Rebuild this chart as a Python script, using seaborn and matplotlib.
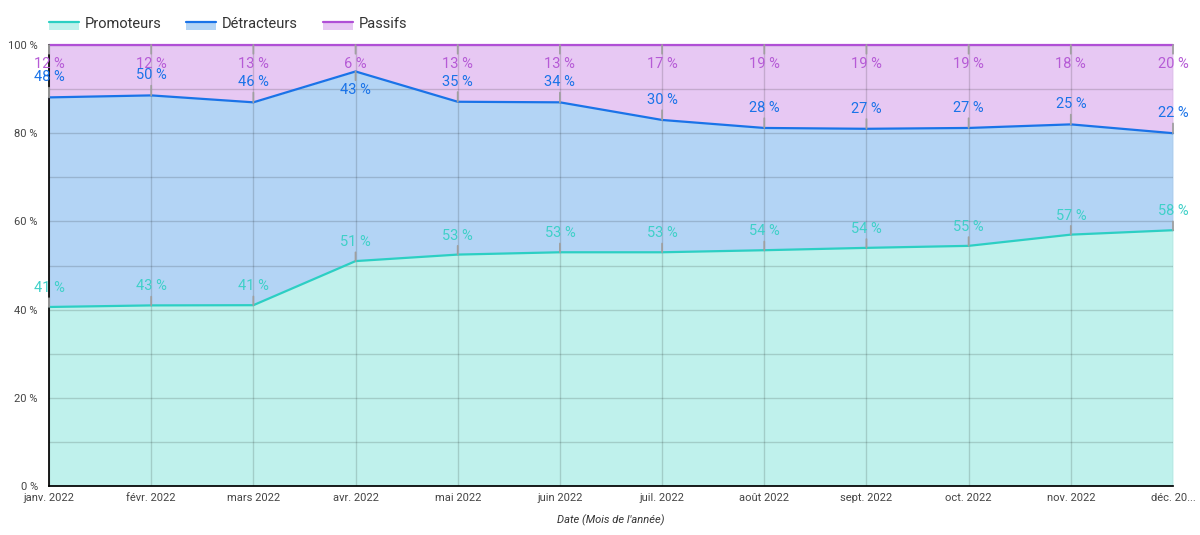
import numpy as np
import pandas as pd
import seaborn as sns
import matplotlib.pyplot as plt
from matplotlib.patches import Patch, Rectangle
from matplotlib.lines import Line2D
from matplotlib.legend_handler import HandlerBase

months = ['janv. 2022', 'févr. 2022', 'mars 2022', 'avr. 2022', 'mai 2022', 'juin 2022',
          'juil. 2022', 'août 2022', 'sept. 2022', 'oct. 2022', 'nov. 2022', 'déc. 20...']
promoteurs = [41, 43, 41, 51, 53, 53, 53, 54, 54, 55, 57, 58]
detracteurs = [48, 50, 46, 43, 35, 34, 30, 28, 27, 27, 25, 22]
passifs = [12, 12, 13, 6, 13, 13, 17, 19, 19, 19, 18, 20]

df = pd.DataFrame({'Promoteurs': promoteurs, 'Détracteurs': detracteurs, 'Passifs': passifs})
df['x'] = np.arange(len(months))
total = df[['Promoteurs', 'Détracteurs', 'Passifs']].sum(axis=1)
df['low'] = df['Promoteurs'] / total * 100
df['mid'] = (df['Promoteurs'] + df['Détracteurs']) / total * 100
df['top'] = 100.0

line_c = {'Promoteurs': '#2ccfc3', 'Détracteurs': '#1a73e8', 'Passifs': '#b04fd6'}
fill_c = {'Promoteurs': '#bff1ec', 'Détracteurs': '#b3d4f5', 'Passifs': '#e7c8f3'}
text_c = {'Promoteurs': '#3fd0c8', 'Détracteurs': '#1a73e8', 'Passifs': '#b65bd6'}

sns.set_theme(style='white')
plt.rcParams['font.family'] = ['Roboto', 'DejaVu Sans']

fig = plt.figure(figsize=(12, 5.35), dpi=100)
ax = fig.add_axes([49 / 1200, 1 - 486 / 535, 1124 / 1200, 441 / 535])

ax.fill_between(df['x'], 0, df['low'], color=fill_c['Promoteurs'], lw=0, zorder=1)
ax.fill_between(df['x'], df['low'], df['mid'], color=fill_c['Détracteurs'], lw=0, zorder=1)
ax.fill_between(df['x'], df['mid'], df['top'], color=fill_c['Passifs'], lw=0, zorder=1)

for name, col in [('Promoteurs', 'low'), ('Détracteurs', 'mid'), ('Passifs', 'top')]:
    sns.lineplot(x=df['x'], y=df[col], ax=ax, color=line_c[name], lw=1.6, zorder=4, clip_on=False)

# grid over the fills
ax.set_xlim(0, len(months) - 1)
ax.set_ylim(0, 100)
ax.set_yticks(np.arange(0, 101, 20))
ax.set_yticks(np.arange(0, 101, 10), minor=True)
ax.set_yticklabels([f'{v} %' for v in range(0, 101, 20)])
ax.set_xticks(df['x'])
ax.set_xticklabels(months)
ax.set_axisbelow(False)
ax.grid(True, which='both', color='black', alpha=0.15, lw=1, zorder=2)
ax.tick_params(axis='both', which='both', length=0, labelsize=8, colors='#444444')
ax.tick_params(axis='y', pad=8)
ax.tick_params(axis='x', pad=5)
for s in ['top', 'right']:
    ax.spines[s].set_visible(False)
ax.spines['left'].set_color('black')
ax.spines['bottom'].set_color('black')
ax.spines['left'].set_zorder(5)
ax.spines['bottom'].set_zorder(5)
ax.set_ylabel('')
ax.set_xlabel("Date (Mois de l'année)", fontsize=8, style='italic', color='#333333', labelpad=8)

arrow = dict(arrowstyle='-', color='#a0a0a0', lw=1.3, shrinkA=0, shrinkB=0)


def label(x, y, txt, color, dy):
    ax.annotate(txt, (x, y), xytext=(0, dy), textcoords='offset pixels', ha='center',
                va='center', fontsize=10.5, color=color, zorder=6, arrowprops=arrow,
                annotation_clip=False)


for i in range(len(df)):
    r = df.iloc[i]
    label(r['x'], r['low'], f"{promoteurs[i]} %", text_c['Promoteurs'], 19)
    dy = -19 if r['mid'] > 92 else 20
    label(r['x'], r['mid'], f"{detracteurs[i]} %", text_c['Détracteurs'], dy)
    label(r['x'], r['top'], f"{passifs[i]} %", text_c['Passifs'], -19)


class AreaHandler(HandlerBase):
    def create_artists(self, legend, orig_handle, xdescent, ydescent, width, height, fontsize, trans):
        yc = height / 2 - ydescent + 1
        rect = Rectangle((-xdescent, yc - 6), width, 6, facecolor=orig_handle.get_facecolor(),
                         edgecolor='none', transform=trans)
        line = Line2D([-xdescent, width - xdescent], [yc, yc], color=orig_handle.get_edgecolor(),
                      lw=1.6, transform=trans)
        return [rect, line]


handles = [Patch(facecolor=fill_c[n], edgecolor=line_c[n], label=n)
           for n in ['Promoteurs', 'Détracteurs', 'Passifs']]
fig.legend(handles=handles, loc='center left', bbox_to_anchor=(49 / 1200, 1 - 24 / 535),
           ncol=3, frameon=False, fontsize=10.5, handlelength=2.05, handletextpad=0.4,
           columnspacing=1.7, borderpad=0, borderaxespad=0,
           handler_map={Patch: AreaHandler()}, labelcolor='#333333')

fig.savefig('out.png', dpi=100)
